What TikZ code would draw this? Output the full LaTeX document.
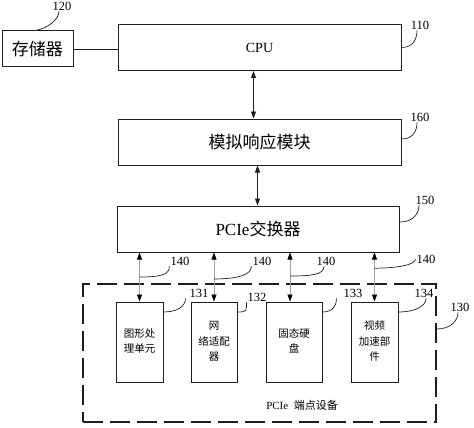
\documentclass[tikz,border=0pt]{standalone}
\usepackage{fontspec}
\setmainfont{Liberation Serif}
\newfontfamily\cjk{Noto Sans CJK SC}
\usetikzlibrary{arrows.meta, positioning, calc}
\definecolor{pcblack}{HTML}{1E1E1E}
\definecolor{pcgray}{HTML}{A0A0A0}
\newcommand\devlines[1]{\begin{tabular}{@{}c@{}}#1\end{tabular}}

\begin{document}
\begin{tikzpicture}[
    x=1pt, y=-1pt,
    >={Triangle[length=7pt, width=5pt]},
    blk/.style={
        draw=pcblack, line width=1pt, minimum width=283pt,
        minimum height=46pt, inner sep=0pt,
        font=\fontsize{17}{19}\selectfont
    },
    dev/.style={
        draw=pcblack, line width=1pt, minimum height=80pt,
        inner sep=0pt, align=center,
        font=\fontsize{10.5}{15.5}\selectfont\cjk
    },
    num/.style={font=\fontsize{12.5}{14}\selectfont, inner sep=1pt},
    lead/.style={draw=pcblack, line width=0.7pt},
    link/.style={<->, draw=pcblack, line width=0.8pt},
    plink/.style={
        {Triangle[length=7pt, width=5pt, color=black]}-{Triangle[length=7pt, width=5pt, color=black]},
        draw=pcgray, line width=0.7pt
    },
]
\useasboundingbox (0,0) rectangle (474,428);

% ---- host side ----
\node[blk, minimum width=71pt, minimum height=36pt] (mem) at (37.5,49) {\cjk 存储器};
\node[blk, font=\fontsize{14}{16}\selectfont] (cpu) at (259.5,47.5) {CPU};
\node[blk] (sim) at (259.5,142) {\cjk 模拟响应模块};
\node[blk, minimum width=282pt] (sw) at (258,229) {PCIe{\cjk 交换器}};

% ---- endpoint devices ----
\node[draw=pcblack, dash pattern=on 20pt off 7pt, line width=1.6pt,
      minimum width=353pt, minimum height=138pt] (ep) at (259.5,353) {};
\node[dev, minimum width=47pt] (gpu) at (139.5,342) {\devlines{图形处\\理单元}};
\node[dev, minimum width=46pt] (nic) at (214,342) {\devlines{网\\络适配\\器}};
\node[dev, minimum width=56pt] (ssd) at (294,342) {\devlines{固态硬\\盘}};
\node[dev, minimum width=47pt] (vpu) at (374.5,342) {\devlines{视频\\加速部\\件}};
\node[font=\fontsize{11}{13}\selectfont] (eptxt) at (302,405) {PCIe\ \ {\cjk 端点设备}};

% ---- reference numbers ----
\node[num] (n120) at (62,6) {120};
\node[num] (n110) at (420,25) {110};
\node[num] (n160) at (420,117) {160};
\node[num] (n150) at (425,200) {150};
\node[num] (n140a) at (180,261) {140};
\node[num] (n140b) at (262,261) {140};
\node[num] (n140c) at (326,261) {140};
\node[num] (n140d) at (426,259) {140};
\node[num] (n131) at (199,293) {131};
\node[num] (n132) at (257,297) {132};
\node[num] (n133) at (353,293) {133};
\node[num] (n134) at (424,293) {134};
\node[num] (n130) at (460,307) {130};

% ---- connections ----
\draw[line width=0.8pt, pcblack] (mem.east) -- (mem.east -| cpu.west);
\draw[link] ([xshift=-6pt]cpu.south) -- ([xshift=-6pt]sim.north);
\draw[link] ([xshift=-2pt]sim.south) -- ([xshift=-2pt]sim.south |- sw.north);
\draw[plink] (gpu.north |- sw.south) -- (gpu.north) coordinate[pos=0.5] (t1);
\draw[plink] (nic.north |- sw.south) -- (nic.north) coordinate[pos=0.54] (t2);
\draw[plink] ([xshift=-4pt]ssd.north |- sw.south) -- ([xshift=-4pt]ssd.north) coordinate[pos=0.48] (t3);
\draw[plink] (vpu.north |- sw.south) -- (vpu.north) coordinate[pos=0.32] (t4);

% ---- leader lines ----
\draw[lead] ([xshift=-2pt]mem.north) .. controls +(12,-2) and +(0,8) .. ([xshift=-3pt]n120.south);
\draw[lead] (cpu.east) .. controls +(12,0) and +(0,8) .. ([xshift=-3pt]n110.south);
\draw[lead] ([yshift=3pt]sim.east) .. controls +(12,0) and +(0,8) .. ([xshift=-3pt]n160.south);
\draw[lead] ([yshift=7pt]sw.east) .. controls +(14,0) and +(0,8) .. ([xshift=-6pt]n150.south);
\draw[lead] (t1) .. controls +(22,0) and +(0,8) .. (n140a.south west);
\draw[lead] (t2) .. controls +(25,0) and +(0,8) .. (n140b.south west);
\draw[lead] (t3) .. controls +(22,0) and +(0,8) .. ([xshift=-2pt]n140c.south);
\draw[lead] (t4) .. controls +(22,0) and +(0,6) .. (n140d.west);
\draw[lead] ([yshift=30pt]gpu.east) .. controls +(14,0) and +(0,8) .. ([xshift=-3pt]n131.south west);
\draw[lead] ([yshift=30pt]nic.east) .. controls +(10,0) and +(0,8) .. (n132.south west);
\draw[lead] ([yshift=30pt]ssd.east) .. controls +(10,0) and +(0,8) .. ([xshift=-6pt]n133.south west);
\draw[lead] ([yshift=30pt]vpu.east) .. controls +(16,0) and +(0,8) .. ([xshift=2pt]n134.south);
\draw[lead] ([yshift=24pt]ep.east) .. controls +(14,0) and +(0,8) .. ([xshift=-2pt]n130.south);

\end{tikzpicture}
\end{document}
